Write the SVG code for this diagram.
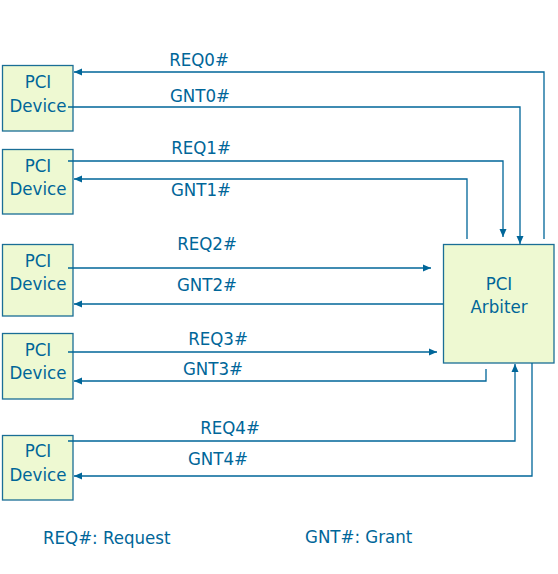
<svg xmlns="http://www.w3.org/2000/svg" width="558" height="574" viewBox="0 0 558 574">
<style>
.box{fill:#EEF9D2;stroke:#1A6E96;stroke-width:1.3}
.t{font-family:"DejaVu Sans Condensed","DejaVu Sans",sans-serif;font-stretch:condensed;font-size:18.5px;fill:#006699}
.c{text-anchor:middle}
.w{fill:none;stroke:#006699;stroke-width:1.3}
</style>
<defs>
<marker id="ah" markerUnits="userSpaceOnUse" markerWidth="9" markerHeight="8" refX="8" refY="4" orient="auto">
<path d="M0,0.5 L8,4 L0,7.5 z" fill="#006699"/>
</marker>
</defs>
<rect width="558" height="574" fill="#fff"/>
<g id="dev0"><rect class="box" x="2.5" y="65.5" width="70.5" height="65.5"/><text class="t c" x="38" y="88">PCI</text><text class="t c" x="38" y="112">Device</text></g>
<g id="dev1"><rect class="box" x="2.5" y="149.5" width="70.5" height="64.5"/><text class="t c" x="38" y="172">PCI</text><text class="t c" x="38" y="195">Device</text></g>
<g id="dev2"><rect class="box" x="2.5" y="244.5" width="70.5" height="71.5"/><text class="t c" x="38" y="267">PCI</text><text class="t c" x="38" y="290">Device</text></g>
<g id="dev3"><rect class="box" x="2.5" y="333.5" width="70.5" height="65.5"/><text class="t c" x="38" y="356">PCI</text><text class="t c" x="38" y="379">Device</text></g>
<g id="dev4"><rect class="box" x="2.5" y="435.5" width="70.5" height="64.5"/><text class="t c" x="38" y="457">PCI</text><text class="t c" x="38" y="481">Device</text></g>
<g id="arbiter"><rect class="box" x="443.5" y="244.5" width="110.5" height="118.5"/><text class="t c" x="499" y="290">PCI</text><text class="t c" x="499" y="313">Arbiter</text></g>
<g id="connectors">
<path class="w" d="M544,239 V72 H74" marker-end="url(#ah)"/>
<path class="w" d="M68,107 H520 V244" marker-end="url(#ah)"/>
<path class="w" d="M68,161 H503 V237" marker-end="url(#ah)"/>
<path class="w" d="M467,239 V179 H74" marker-end="url(#ah)"/>
<path class="w" d="M68,268 H431" marker-end="url(#ah)"/>
<path class="w" d="M443,304 H74" marker-end="url(#ah)"/>
<path class="w" d="M68,352 H437" marker-end="url(#ah)"/>
<path class="w" d="M486,369 V381 H74" marker-end="url(#ah)"/>
<path class="w" d="M68,441 H515 V364" marker-end="url(#ah)"/>
<path class="w" d="M532,363 V476 H74" marker-end="url(#ah)"/>
</g>
<g id="labels">
<text class="t c" x="199" y="66">REQ0#</text>
<text class="t c" x="200" y="102">GNT0#</text>
<text class="t c" x="201" y="154">REQ1#</text>
<text class="t c" x="201" y="196">GNT1#</text>
<text class="t c" x="207" y="250">REQ2#</text>
<text class="t c" x="207" y="291">GNT2#</text>
<text class="t c" x="218" y="345">REQ3#</text>
<text class="t c" x="213" y="375">GNT3#</text>
<text class="t c" x="230" y="434">REQ4#</text>
<text class="t c" x="218" y="465">GNT4#</text>
<text class="t" x="43" y="544">REQ#: Request</text>
<text class="t" x="305" y="543">GNT#: Grant</text>
</g>
</svg>
